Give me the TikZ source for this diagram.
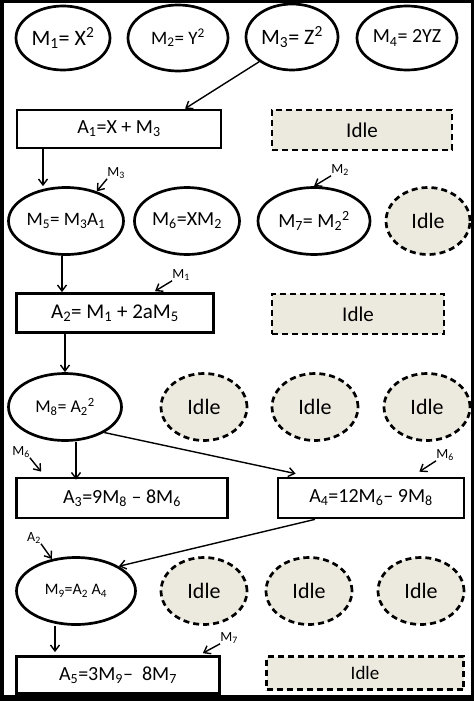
\documentclass[tikz,border=0pt]{standalone}
\usepackage{fontspec}
\setmainfont{Carlito}
\usetikzlibrary{shapes.geometric,arrows.meta}
\newcommand{\lowidx}[1]{\textsubscript{#1}}
\newcommand{\highidx}[1]{\textsuperscript{#1}}
\definecolor{idlefill}{RGB}{236,233,222}

\begin{document}
\begin{tikzpicture}[x=1pt,y=-1pt,
	mult/.style={ellipse, draw, line width=2.7pt, inner sep=0pt, font=\fontsize{20}{24}\selectfont},
	idleoval/.style={ellipse, draw, dash pattern=on 6pt off 4pt, line width=2.7pt, fill=idlefill, inner sep=0pt, minimum width=86, minimum height=67, font=\fontsize{22}{26}\selectfont},
	addbox/.style={rectangle, draw, line width=2.7pt, inner sep=0pt, font=\fontsize{20}{24}\selectfont},
	idlebox/.style={rectangle, draw, dash pattern=on 6pt off 4pt, line width=2.7pt, fill=idlefill, inner sep=0pt, font=\fontsize{21}{25}\selectfont},
	inlab/.style={inner sep=0pt, font=\fontsize{14}{16}\selectfont},
	flow/.style={line width=1.4pt, -{Straight Barb[length=6pt,width=9pt]}}]
			%%%%% START %%%%%
			
			\useasboundingbox (0, 0) rectangle (474, 701);
			\fill[black] (0, 0) rectangle (474, 701);
			\fill[white] (4, 3) rectangle (471, 695);
			
			% multiplier and adder steps
			\node[mult, minimum width=94, minimum height=64, font=\fontsize{22}{26}\selectfont] (M1) at (63, 38) {M\lowidx{1}= X\highidx{2}};
			\node[mult, minimum width=100, minimum height=66, font=\fontsize{19}{22}\selectfont] (M2) at (178, 38) {M\lowidx{2}= Y\highidx{2}};
			\node[mult, minimum width=92, minimum height=66, font=\fontsize{22}{26}\selectfont] (M3) at (292, 37) {M\lowidx{3}= Z\highidx{2}};
			\node[mult, minimum width=100, minimum height=64] (M4) at (407, 38) {M\lowidx{4}= 2YZ};
			
			\node[addbox, minimum width=204, minimum height=38] (A1) at (119, 129) {A\lowidx{1}=X + M\lowidx{3}};
			\node[idlebox, minimum width=180, minimum height=40] (I1) at (362, 130) {Idle};
			
			\node[mult, minimum width=115, minimum height=67, font=\fontsize{19}{22}\selectfont] (M5) at (66, 221) {M\lowidx{5}= M\lowidx{3}A\lowidx{1}};
			\node[mult, minimum width=105, minimum height=67] (M6) at (187, 221) {M\lowidx{6}=XM\lowidx{2}};
			\node[mult, minimum width=112, minimum height=67] (M7) at (314, 221) {M\lowidx{7}= M\lowidx{2}\highidx{2}};
			\node[idleoval, minimum width=84] (I2) at (428, 221) {Idle};
			
			\node[addbox, minimum width=197, minimum height=39, font=\fontsize{21}{25}\selectfont] (A2) at (115, 313) {A\lowidx{2}= M\lowidx{1} + 2aM\lowidx{5}};
			\node[idlebox, minimum width=172, minimum height=40] (I3) at (358, 314) {Idle};
			
			\node[mult, minimum width=113, minimum height=67, font=\fontsize{18}{21}\selectfont] (M8) at (65, 407) {M\lowidx{8}= A\lowidx{2}\highidx{2}};
			\node[idleoval] (I4) at (204, 407) {Idle};
			\node[idleoval] (I5) at (315, 407) {Idle};
			\node[idleoval] (I6) at (427, 407) {Idle};
			
			\node[addbox, minimum width=211, minimum height=40] (A3) at (122, 498) {A\lowidx{3}=9M\lowidx{8} -- 8M\lowidx{6}};
			\node[addbox, minimum width=186, minimum height=40] (A4) at (371, 498) {A\lowidx{4}=12M\lowidx{6}-- 9M\lowidx{8}};
			
			\node[mult, minimum width=119, minimum height=67, font=\fontsize{16}{19}\selectfont] (M9) at (76, 591) {M\lowidx{9}=A\lowidx{2} A\lowidx{4}};
			\node[idleoval] (I7) at (204, 591) {Idle};
			\node[idleoval] (I8) at (309, 591) {Idle};
			\node[idleoval] (I9) at (421, 591) {Idle};
			
			\node[addbox, minimum width=203, minimum height=37] (A5) at (118, 675) {A\lowidx{5}=3M\lowidx{9}-- ~8M\lowidx{7}};
			\node[idlebox, minimum width=197, minimum height=33, font=\fontsize{19}{22}\selectfont] (I10) at (365, 673) {Idle};
			
			% operand labels
			\node[inlab] (lM3) at (116, 173) {M\lowidx{3}};
			\node[inlab] (lM2) at (340, 170) {M\lowidx{2}};
			\node[inlab] (lM1) at (181, 275) {M\lowidx{1}};
			\node[inlab] (lM6a) at (21, 452) {M\lowidx{6}};
			\node[inlab] (lM6b) at (445, 455) {M\lowidx{6}};
			\node[inlab] (lA2) at (34, 538) {A\lowidx{2}};
			\node[inlab] (lM7) at (229, 638) {M\lowidx{7}};
			
			% data flow
			\draw[flow] (M3.217) -- ([xshift=66]A1.north);
			\draw[flow] ([xshift=-76]A1.south) -- ([xshift=-76]A1.south |- M5.north);
			\draw[flow] ([xshift=-4]M5.south) -- ([xshift=-4]M5.south |- A2.north);
			\draw[flow] (M8.north |- A2.south) -- (M8.north);
			\draw[flow] ([xshift=11]M8.south) -- ([xshift=11, yshift=-3]M8.south |- A3.north);
			\draw[flow] (M8.-33) -- ([xshift=19, yshift=3]A4.north west);
			\draw[flow] ([xshift=-56]A4.south) -- (M9.30);
			\draw[flow] ([xshift=-21]M9.south) -- ([xshift=-21, yshift=3]M9.south |- A5.north);
			
			\draw[flow] (lM3.south west) -- (M5.44);
			\draw[flow] (lM2.south west) -- (M7.north);
			\draw[flow] (lM1.south west) -- ([xshift=40, yshift=1]A2.north);
			\draw[flow] (lM6a.south east) -- ([xshift=26, yshift=5]A3.north west);
			\draw[flow] (lM6b.south west) -- ([xshift=-46, yshift=5]A4.north east);
			\draw[flow] (lA2.south east) -- (M9.127);
			\draw[flow] (lM7.south west) -- ([xshift=-18, yshift=2]A5.north east);
			
			%%%%% END %%%%%
		\end{tikzpicture}
\end{document}
